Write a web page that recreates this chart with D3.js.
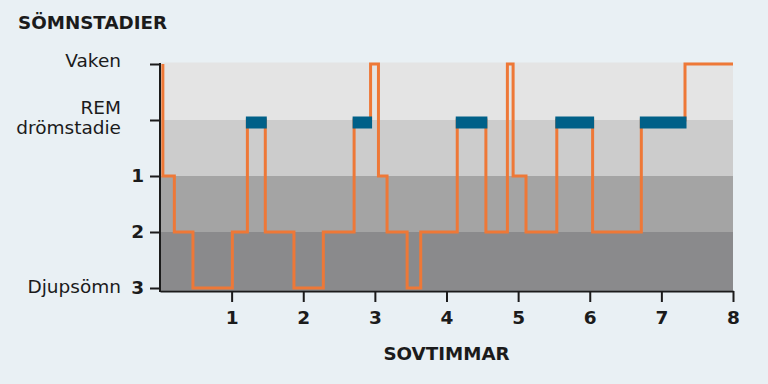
<!DOCTYPE html>
<html>
<head>
<meta charset="utf-8">
<script src="https://cdn.jsdelivr.net/npm/d3@7"></script>
<style>
  html, body { margin: 0; padding: 0; background: #e9f0f4; }
  svg { display: block; font-family: "DejaVu Sans", sans-serif; }
</style>
</head>
<body>
<div id="chart"></div>
<script>
const width = 768;
const height = 384;

// sleep stages, top to bottom
const stages = ['Vaken', 'REM', '1', '2', '3'];
const stageNames = [['Vaken'], ['REM', 'drömstadie'], [], [], ['Djupsömn']];
const stageNumbers = ['', '', '1', '2', '3'];
const bandColors = ['#e4e4e4', '#cccccc', '#a4a4a4', '#8a8a8c'];
const hourTicks = [1, 2, 3, 4, 5, 6, 7, 8];

// hypnogram: time (hours) at which each stage starts
const changeTimes = [0.04, 0.04, 0.2, 0.46, 1.01, 1.22, 1.47, 1.87, 2.28, 2.71, 2.94, 3.05,
  3.17, 3.45, 3.64, 4.15, 4.55, 4.85, 4.93, 5.11, 5.54, 6.04, 6.72, 7.33];
const changeStages = ['Vaken', '1', '2', '3', '2', 'REM', '2', '3', '2', 'REM', 'Vaken', '1',
  '2', '3', '2', 'REM', '2', 'Vaken', '1', '2', 'REM', '2', 'REM', 'Vaken'];
const endTime = 8;

const svg = d3.select('#chart').append('svg')
    .attr('width', width)
    .attr('height', height);

const x = d3.scaleLinear().domain([0, 8]).range([160, 733]);
const y = d3.scalePoint().domain(stages).range([64, 288]);

// background bands between the stage levels
const bands = bandColors.map((c, i) => ({
  color: c,
  y0: y(stages[i]) - (i === 0 ? 1.5 : 0),
  y1: y(stages[i + 1]) + (i === bandColors.length - 1 ? 2.5 : 0)
}));
svg.append('g').selectAll('rect').data(bands).join('rect')
    .attr('x', x(0))
    .attr('width', x(8) - x(0))
    .attr('y', d => d.y0)
    .attr('height', d => d.y1 - d.y0)
    .attr('fill', d => d.color);

// stage line
const points = changeTimes.map((t, i) => ({t: t, s: changeStages[i]}));
points.push({t: endTime, s: changeStages[changeStages.length - 1]});
const line = d3.line()
    .x(d => x(d.t))
    .y(d => y(d.s))
    .curve(d3.curveStepAfter);
svg.append('path')
    .datum(points)
    .attr('d', line)
    .attr('fill', 'none')
    .attr('stroke', '#ee7837')
    .attr('stroke-width', 3);

// REM markers
const remSegments = [];
changeStages.forEach((s, i) => {
  if (s === 'REM') remSegments.push({start: changeTimes[i], end: changeTimes[i + 1] || endTime});
});
svg.append('g').selectAll('rect').data(remSegments).join('rect')
    .attr('x', d => x(d.start) - 1.5)
    .attr('width', d => x(d.end) - x(d.start) + 3)
    .attr('y', y('REM') - 3.5)
    .attr('height', 12)
    .attr('fill', '#006088');

// axes
const xAxis = svg.append('g')
    .attr('transform', 'translate(0,291)')
    .call(d3.axisBottom(x).tickValues(hourTicks).tickSize(11).tickPadding(9).tickSizeOuter(0));
const yAxis = svg.append('g')
    .attr('transform', 'translate(160,0)')
    .call(d3.axisLeft(y).tickSize(10).tickPadding(6).tickFormat((d, i) => stageNumbers[i]));
yAxis.select('.domain').remove();
yAxis.append('line')
    .attr('y1', y('Vaken') - 1)
    .attr('y2', 292)
    .attr('stroke', '#1b1b1b')
    .attr('stroke-width', 2);

[xAxis, yAxis].forEach(a => {
  a.selectAll('.domain, .tick line').attr('stroke', '#1b1b1b').attr('stroke-width', 2);
  a.selectAll('.tick text')
      .attr('fill', '#1b1b1b')
      .attr('font-size', 18.5)
      .attr('font-weight', 'bold')
      .attr('font-family', '"DejaVu Sans", sans-serif');
});

// stage names next to the axis
const nameGroups = svg.append('g').selectAll('text')
    .data(stages.map((s, i) => ({s: s, lines: stageNames[i]})).filter(d => d.lines.length))
    .join('text')
    .attr('x', 121)
    .attr('y', d => y(d.s) - (d.s === 'Vaken' ? 4 : 2))
    .attr('text-anchor', 'end')
    .attr('font-size', 18.5)
    .attr('fill', '#1b1b1b');
nameGroups.selectAll('tspan')
    .data(d => d.lines.map((l, i) => ({l: l, i: i, n: d.lines.length})))
    .join('tspan')
    .attr('x', 121)
    .attr('dy', d => d.i === 0 ? (0.36 - (d.n - 1) * 0.55) + 'em' : '1.05em')
    .text(d => d.l);

// titles
svg.append('text')
    .attr('x', 18)
    .attr('y', 29)
    .attr('font-size', 18.3)
    .attr('font-weight', 'bold')
    .attr('fill', '#1b1b1b')
    .text('SÖMNSTADIER');

svg.append('text')
    .attr('x', (x(0) + x(8)) / 2)
    .attr('y', 360)
    .attr('text-anchor', 'middle')
    .attr('font-size', 18.3)
    .attr('font-weight', 'bold')
    .attr('fill', '#1b1b1b')
    .text('SOVTIMMAR');
</script>
</body>
</html>
